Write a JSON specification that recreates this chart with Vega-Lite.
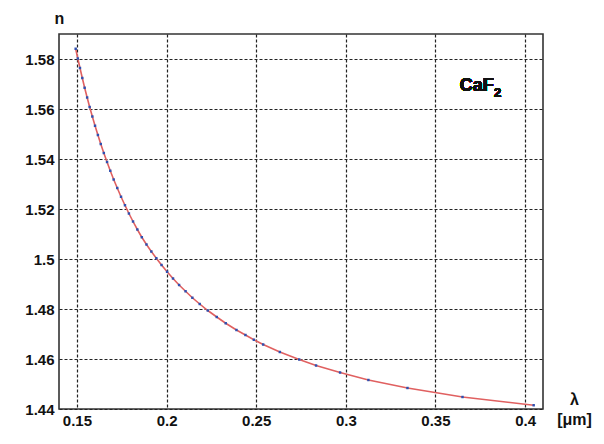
{
  "$schema": "https://vega.github.io/schema/vega-lite/v6.json",
  "width": 484,
  "height": 375,
  "autosize": {"type": "none"},
  "padding": {"left": 59, "top": 34, "right": 61, "bottom": 35},
  "background": "white",
  "config": {
    "font": "Liberation Sans",
    "view": {"stroke": "#333333", "strokeWidth": 1.6},
    "axis": {
      "domain": false,
      "ticks": false,
      "grid": true,
      "gridColor": "#222222",
      "gridDash": [3, 2],
      "gridWidth": 1.2,
      "gridOpacity": 1,
      "labelFont": "Liberation Sans",
      "labelFontSize": 15,
      "labelFontWeight": "bold",
      "labelColor": "#111111",
      "titleFont": "Liberation Sans",
      "titleFontSize": 16,
      "titleFontWeight": "bold",
      "titleColor": "#111111"
    }
  },
  "data": {
    "values": [
      {"lambda": 0.1493, "n": 1.5841},
      {"lambda": 0.1505, "n": 1.5802},
      {"lambda": 0.1517, "n": 1.5764},
      {"lambda": 0.1530, "n": 1.5724},
      {"lambda": 0.1543, "n": 1.5685},
      {"lambda": 0.1557, "n": 1.5646},
      {"lambda": 0.1571, "n": 1.5608},
      {"lambda": 0.1586, "n": 1.5570},
      {"lambda": 0.1601, "n": 1.5533},
      {"lambda": 0.1617, "n": 1.5496},
      {"lambda": 0.1633, "n": 1.5460},
      {"lambda": 0.1650, "n": 1.5424},
      {"lambda": 0.1668, "n": 1.5388},
      {"lambda": 0.1686, "n": 1.5353},
      {"lambda": 0.1705, "n": 1.5318},
      {"lambda": 0.1725, "n": 1.5284},
      {"lambda": 0.1746, "n": 1.5249},
      {"lambda": 0.1768, "n": 1.5215},
      {"lambda": 0.1790, "n": 1.5182},
      {"lambda": 0.1813, "n": 1.5150},
      {"lambda": 0.1837, "n": 1.5118},
      {"lambda": 0.1862, "n": 1.5087},
      {"lambda": 0.1888, "n": 1.5058},
      {"lambda": 0.1915, "n": 1.5030},
      {"lambda": 0.1943, "n": 1.5003},
      {"lambda": 0.1972, "n": 1.4976},
      {"lambda": 0.2003, "n": 1.4949},
      {"lambda": 0.2036, "n": 1.4922},
      {"lambda": 0.2070, "n": 1.4896},
      {"lambda": 0.2106, "n": 1.4871},
      {"lambda": 0.2144, "n": 1.4845},
      {"lambda": 0.2185, "n": 1.4820},
      {"lambda": 0.2230, "n": 1.4794},
      {"lambda": 0.2280, "n": 1.4768},
      {"lambda": 0.2330, "n": 1.4743},
      {"lambda": 0.2390, "n": 1.4716},
      {"lambda": 0.2440, "n": 1.4696},
      {"lambda": 0.2487, "n": 1.4677},
      {"lambda": 0.2539, "n": 1.4658},
      {"lambda": 0.2632, "n": 1.4628},
      {"lambda": 0.2740, "n": 1.4598},
      {"lambda": 0.2834, "n": 1.4574},
      {"lambda": 0.2968, "n": 1.4546},
      {"lambda": 0.3126, "n": 1.4516},
      {"lambda": 0.3344, "n": 1.4484},
      {"lambda": 0.3651, "n": 1.4448},
      {"lambda": 0.4048, "n": 1.4415}
    ]
  },
  "layer": [
    {
      "mark": {"type": "line", "color": "#e06060", "strokeWidth": 1.6},
      "encoding": {
        "x": {
          "field": "lambda",
          "type": "quantitative",
          "scale": {"domain": [0.14, 0.41], "nice": false, "zero": false},
          "axis": {
            "values": [0.15, 0.2, 0.25, 0.3, 0.35, 0.4],
            "format": "~g",
            "labelPadding": 4,
            "title": ["λ", "[μm]"],
            "titleX": 515,
            "titleY": -5,
            "titleAlign": "center",
            "titleBaseline": "alphabetic",
            "titleLineHeight": 20
          }
        },
        "y": {
          "field": "n",
          "type": "quantitative",
          "scale": {"domain": [1.44, 1.59], "nice": false, "zero": false},
          "axis": {
            "values": [1.44, 1.46, 1.48, 1.5, 1.52, 1.54, 1.56, 1.58],
            "format": "~g",
            "labelPadding": 5,
            "title": "n",
            "titleAngle": 0,
            "titleX": 0,
            "titleY": -11,
            "titleAlign": "center",
            "titleBaseline": "alphabetic"
          }
        }
      }
    },
    {
      "mark": {"type": "square", "color": "#2f50b0", "size": 6, "opacity": 1},
      "encoding": {
        "x": {"field": "lambda", "type": "quantitative"},
        "y": {"field": "n", "type": "quantitative"}
      }
    },
    {
      "mark": {
        "type": "text",
        "align": "right",
        "baseline": "alphabetic",
        "font": "Liberation Sans",
        "fontSize": 18,
        "fontWeight": "bold",
        "color": "#111111"
      },
      "encoding": {
        "x": {"datum": 0.3825, "type": "quantitative"},
        "y": {"datum": 1.5673, "type": "quantitative"},
        "text": {"value": "CaF"}
      }
    },
    {
      "mark": {
        "type": "text",
        "align": "left",
        "baseline": "alphabetic",
        "font": "Liberation Sans",
        "fontSize": 13,
        "fontWeight": "bold",
        "color": "#111111"
      },
      "encoding": {
        "x": {"datum": 0.3827, "type": "quantitative"},
        "y": {"datum": 1.5648, "type": "quantitative"},
        "text": {"value": "2"}
      }
    }
  ]
}
